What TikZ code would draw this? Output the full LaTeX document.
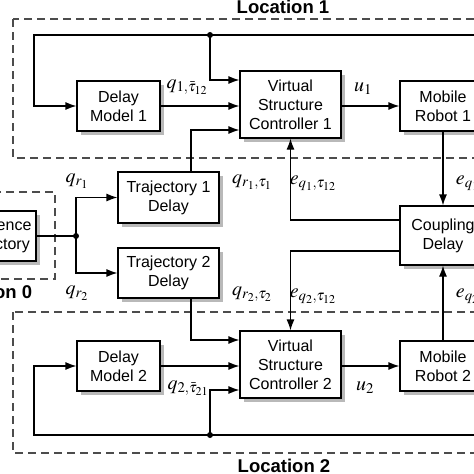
\documentclass[tikz,border=0pt]{standalone}
\usepackage{mathptmx}
\usepackage{fontspec}
\setmainfont{Liberation Sans}
\usetikzlibrary{arrows.meta,shadows}

\tikzset{
  blk/.style={draw, line width=1.2pt, fill=white, inner sep=0pt, align=center,
    font=\fontsize{16}{19}\selectfont,
    drop shadow={shadow xshift=4pt, shadow yshift=-4pt, fill=gray!55, opacity=1}},
  arr/.style={-{Latex[length=11pt,width=8pt]}},
  loc/.style={draw=gray!60!black, dash pattern=on 8pt off 5pt, line width=1.2pt},
  lbl/.style={font=\fontsize{20}{24}\selectfont},
  ttl/.style={font=\fontsize{18.5}{22}\selectfont\bfseries},
  dot/.style={circle, fill, inner sep=0pt, minimum size=6pt}
}

\begin{document}
\begin{tikzpicture}[x=1pt, y=-1pt, line width=1.2pt]
  \useasboundingbox (0,0) rectangle (474,474);
  \clip (0,0) rectangle (474,474);

  % locations
  \draw[loc] (13,19) rectangle (540,158);
  \draw[loc] (13,312) rectangle (540,453);
  \draw[loc] (-120,192) rectangle (55,279);
  \node[ttl, anchor=base] at (283,13) {Location 1};
  \node[ttl, anchor=base] at (284,472) {Location 2};
  \node[ttl, anchor=base east] at (36,298) {Location 0};

  % blocks
  \node[blk, minimum width=83pt, minimum height=50pt]  (dm1)  at (118.5,106) {Delay\\Model 1};
  \node[blk, minimum width=101pt, minimum height=67pt] (vsc1) at (290.5,104.5) {Virtual\\Structure\\Controller 1};
  \node[blk, minimum width=86pt, minimum height=50pt]  (mr1)  at (443,106) {Mobile\\Robot 1};
  \node[blk, minimum width=101pt, minimum height=51pt] (trj1) at (168.5,197.5) {Trajectory 1\\Delay};
  \node[blk, minimum width=101pt, minimum height=50pt] (trj2) at (168.5,273) {Trajectory 2\\Delay};
  \node[blk, minimum width=83pt, minimum height=50pt]  (ref)  at (-5.5,236) {Reference\\Trajectory};
  \node[blk, minimum width=86pt, minimum height=59pt]  (cpl)  at (443,235.5) {Coupling\\Delay};
  \node[blk, minimum width=101pt, minimum height=67pt] (vsc2) at (290.5,364.5) {Virtual\\Structure\\Controller 2};
  \node[blk, minimum width=83pt, minimum height=50pt]  (dm2)  at (118.5,366) {Delay\\Model 2};
  \node[blk, minimum width=86pt, minimum height=50pt]  (mr2)  at (443,366) {Mobile\\Robot 2};

  % junctions and bends
  \node[dot] (j1) at (210,35) {};
  \node[dot] (j0) at (76,236) {};
  \node[dot] (j2) at (210,435) {};
  \coordinate (fb1) at (500,35);
  \coordinate (tl)  at (34,35);
  \coordinate (fb2) at (500,435);
  \coordinate (bl)  at (34,435);
  \coordinate (in1) at (0,80);
  \coordinate (t1o) at (191,130);
  \coordinate (t2o) at (191,340);
  \coordinate (in2) at (0,390);
  \coordinate (c1)  at (0,220);
  \coordinate (c2)  at (0,251);

  % location 1
  \draw[arr] (mr1.east) -| (fb1) -- (tl) |- (dm1.west);
  \draw[arr] (j1.center) |- (vsc1.west |- in1);
  \draw[arr] (dm1.east) -- (vsc1.west |- dm1.east);
  \draw[arr] (trj1.north -| t1o) -- (t1o) -- (vsc1.west |- t1o);
  \draw[arr] (vsc1.east |- mr1.west) -- (mr1.west);
  \draw[arr] (mr1.south) -- (cpl.north);
  \draw[arr] (cpl.west |- c1) -| (vsc1.south);

  % location 0
  \draw (ref.east) -- (j0.center);
  \draw[arr] (j0.center) |- (trj1.west);
  \draw[arr] (j0.center) |- (trj2.west);

  % location 2
  \draw[arr] (cpl.west |- c2) -| (vsc2.north);
  \draw[arr] (mr2.north) -- (cpl.south);
  \draw[arr] (trj2.south -| t2o) -- (t2o) -- (vsc2.west |- t2o);
  \draw[arr] (dm2.east) -- (vsc2.west |- dm2.east);
  \draw[arr] (j2.center) |- (vsc2.west |- in2);
  \draw[arr] (vsc2.east |- mr2.west) -- (mr2.west);
  \draw[arr] (mr2.east) -| (fb2) -- (bl) |- (dm2.west);

  % signals
  \node[lbl] (lq1)  at (187,87)  {$q_{1,\bar{\tau}_{12}}$};
  \node[lbl] (lu1)  at (363,89)  {$u_{1}$};
  \node[lbl] (lqr1) at (77,181)  {$q_{r_1}$};
  \node[lbl] (lqr2) at (77,293)  {$q_{r_2}$};
  \node[lbl] (lqt1) at (252,182) {$q_{r_1,\tau_1}$};
  \node[lbl] (lqt2) at (252,294) {$q_{r_2,\tau_2}$};
  \node[lbl] (le1)  at (313,183) {$e_{q_1,\tau_{12}}$};
  \node[lbl] (le2)  at (313,296) {$e_{q_2,\tau_{12}}$};
  \node[lbl, anchor=west] (le3) at (452,183) {$e_{q_1,\tau_{21}}$};
  \node[lbl, anchor=west] (le4) at (452,296) {$e_{q_2,\tau_{21}}$};
  \node[lbl] (lq2)  at (188,388) {$q_{2,\bar{\tau}_{21}}$};
  \node[lbl] (lu2)  at (365,388) {$u_{2}$};
\end{tikzpicture}
\end{document}
